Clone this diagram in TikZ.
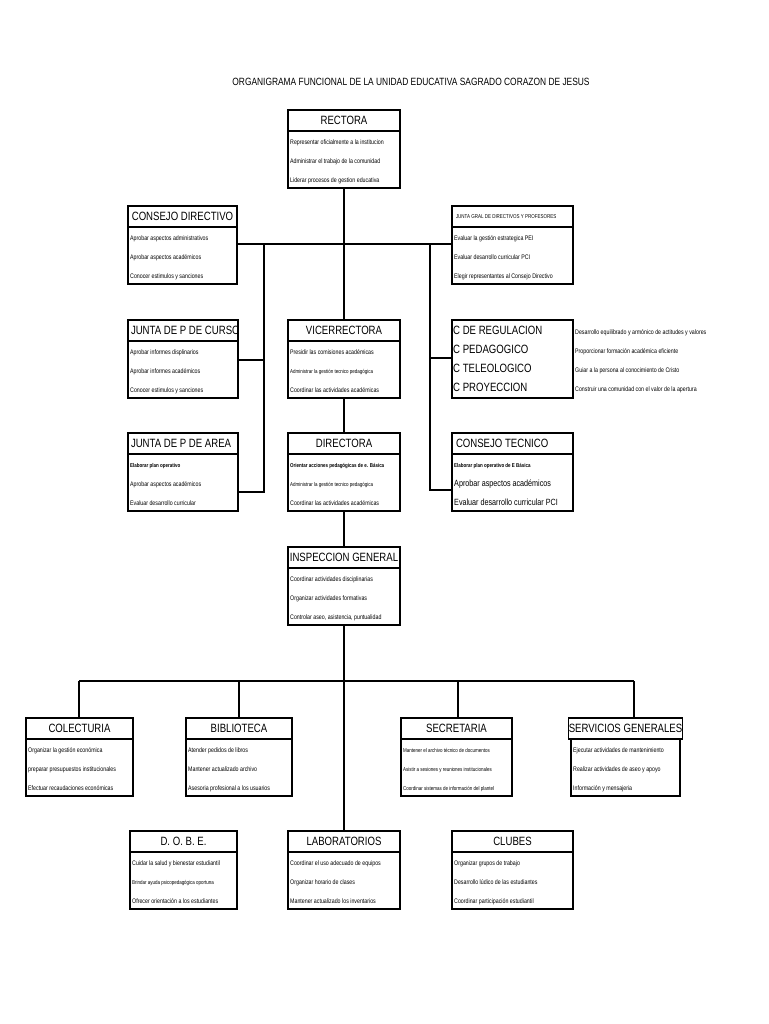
\documentclass[tikz,border=0pt]{standalone}
\usepackage{fontspec}
\setmainfont[FakeStretch=0.8]{Liberation Sans}
\newcommand\hdf{\fontsize{12}{13}\selectfont}
\newcommand\bdf{\fontsize{6.6}{7.5}\selectfont}
\newcommand\smf{\fontsize{5.6}{6.5}\selectfont}
\newcommand\bgf{\fontsize{9}{10}\selectfont}
% #1 name #2 x1 #3 x2 #4 ytop #5 header #6 #7 #8 lines
\newcommand\obox[8]{%
 \node[boxst, minimum width={(#3-#2)*1pt}, minimum height=21pt] (#1h) at ({(#2+#3)/2},#4+10.5) {\hdf #5};
 \node[boxst, minimum width={(#3-#2)*1pt}, minimum height=57pt] (#1b) at ({(#2+#3)/2},#4+49.5) {};
 \node[ln] (#1l1) at (#2+2,#4+34.5) {#6};
 \node[ln] (#1l2) at (#2+2,#4+53.5) {#7};
 \node[ln] (#1l3) at (#2+2,#4+72.5) {#8};
}
\newcommand\lhead[2]{\makebox[#1pt][l]{\hspace{2pt}#2}}
\begin{document}
\begin{tikzpicture}[x=1pt,y=-1pt,
 boxst/.style={draw, line width=1.2pt, inner sep=0pt},
 ln/.style={anchor=base west, inner sep=0pt, font=\bdf},
 con/.style={line width=1.2pt},
 desc/.style={anchor=base west, inner sep=0pt, font=\bdf}]
\useasboundingbox (0,0) rectangle (768,1024);
\node (title) at (411,82) {\fontsize{10.5}{12}\selectfont ORGANIGRAMA FUNCIONAL DE LA UNIDAD EDUCATIVA SAGRADO CORAZON DE JESUS};

\obox{rec}{288}{400}{110}{RECTORA}{Representar oficialmente a la institucion}{Administrar el trabajo de la comunidad}{Liderar procesos de gestion educativa}
\obox{cd}{128}{237}{206}{CONSEJO DIRECTIVO}{Aprobar aspectos administrativos}{Aprobar aspectos académicos}{Conocer estimulos y sanciones}
\obox{jg}{452}{573}{206}{\lhead{117}{\smf JUNTA GRAL DE DIRECTIVOS Y PROFESORES}}{Evaluar la gestión estrategica PEI}{Evaluar desarrollo curricular PCI}{Elegir representantes al Consejo Directivo}
\obox{jc}{128}{238}{320}{\lhead{108}{JUNTA DE P DE CURSO}}{Aprobar informes displinarios}{Aprobar informes académicos}{Conocer estimulos y sanciones}
\obox{vice}{288}{400}{320}{VICERRECTORA}{Presidir las comisiones académicas}{\smf Administrar la gestión tecnico pedagógica}{Coordinar las actividades académicas}
\obox{ja}{128}{238}{433}{\lhead{108}{JUNTA DE P DE AREA}}{\textbf{\smf Elaborar plan operativo}}{Aprobar aspectos académicos}{Evaluar desarrollo curricular}
\obox{dir}{288}{400}{433}{DIRECTORA}{\textbf{\smf Orientar acciones pedagógicas de e. Básica}}{\smf Administrar la gestión tecnico pedagógica}{Coordinar las actividades académicas}
\obox{ct}{452}{573}{433}{\lhead{117}{CONSEJO TECNICO}}{\textbf{\smf Elaborar plan operativo de E Básica}}{\bgf Aprobar aspectos académicos}{\bgf Evaluar desarrollo curricular PCI}
\obox{ins}{288}{400}{547}{INSPECCION GENERAL}{Coordinar actividades disciplinarias}{Organizar actividades formativas}{Controlar aseo, asistencia, puntualidad}

% C box
\node[boxst, minimum width=121pt, minimum height=78pt] (cbox) at (512.5,359) {};
\node[ln, font=\hdf] (c1) at (453,334.5) {C DE REGULACION};
\node[ln, font=\hdf] (c2) at (453,353) {C PEDAGOGICO};
\node[ln, font=\hdf] (c3) at (453,372) {C TELEOLOGICO};
\node[ln, font=\hdf] (c4) at (453,391) {C PROYECCION};
\node[desc] (d1) at (575,334.5) {Desarrollo equilibrado y armónico de actitudes y valores};
\node[desc] (d2) at (575,353.5) {Proporcionar formación académica eficiente};
\node[desc] (d3) at (575,372.5) {Guiar a la persona al conocimiento de Cristo};
\node[desc] (d4) at (575,391) {Construir una comunidad con el valor de la apertura};

\obox{col}{26}{133}{718}{COLECTURIA}{Organizar la gestión económica}{preparar presupuestos institucionales}{Efectuar recaudaciones económicas}
\obox{bib}{186}{292}{718}{BIBLIOTECA}{Atender pedidos de libros}{Mantener actualizado archivo}{Asesoria profesional a los usuarios}
\obox{sec}{401}{512}{718}{SECRETARIA}{\smf Mantener el archivo técnico de documentos}{\smf Asistir a sesiones y reuniones institucionales}{\smf Coordinar sistemas de información del plantel}
\obox{sg}{571}{680}{718}{SERVICIOS GENERALES}{Ejecutar actividades de mantenimiento}{Realizar actividades de aseo y apoyo}{Información y mensajeria}
\obox{dobe}{130}{237}{831}{D. O. B. E.}{Cuidar la salud y bienestar estudiantil}{\smf Brindar ayuda psicopedagógica oportuna}{Ofrecer orientación a los estudiantes}
\obox{lab}{288}{400}{831}{LABORATORIOS}{Coordinar el uso adecuado de equipos}{Organizar horario de clases}{Mantener actualizado los inventarios}
\obox{clu}{452}{573}{831}{CLUBES}{Organizar grupos de trabajo}{Desarrollo lúdico de las estudiantes}{Coordinar participación estudiantil}

% connectors
\coordinate (hy) at (344,244);
\coordinate (lv) at (264,244);
\coordinate (rv) at (430,244);
\draw[con] (recb.south) -- (viceh.north);
\draw[con] (cdb.east|-hy) -- (jgb.west|-hy);
\draw[con] (lv) -- (264,492) -- (jab.east|-0,492);
\draw[con] (jcb.east|-0,360) -- (264,360);
\draw[con] (rv) -- (430,490) -- (ctb.west|-0,490);
\draw[con] (430,358) -- (cbox.west|-0,358);
\draw[con] (viceb.south) -- (dirh.north);
\draw[con] (dirb.south) -- (insh.north);
\draw[con] (insb.south) -- (labh.north);
\draw[con] (79,681) -- (634,681);
\draw[con] (79,681) -- (colh.north-|79,0);
\draw[con] (239,681) -- (bibh.north-|239,0);
\draw[con] (458,681) -- (sech.north-|458,0);
\draw[con] (634,681) -- (sgh.north-|634,0);
\end{tikzpicture}
\end{document}
